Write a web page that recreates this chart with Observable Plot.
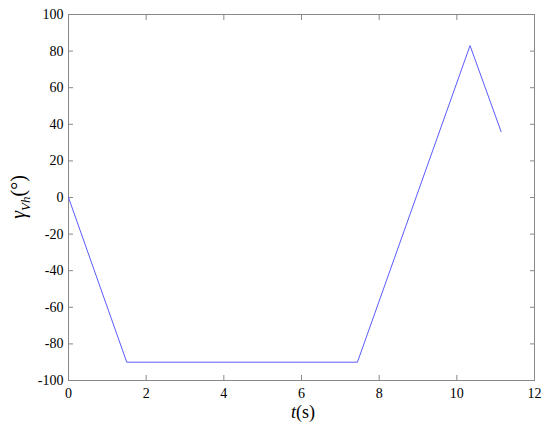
<!DOCTYPE html>
<html><head><meta charset="utf-8">
<script src="https://cdn.jsdelivr.net/npm/d3@7"></script>
<script src="https://cdn.jsdelivr.net/npm/@observablehq/plot@0.6"></script>
<style>body{margin:0;background:#fff}</style>
</head><body><div id="chart"></div>
<script>
const time = [0, 1.5, 7.44, 10.34, 11.14];
const gamma = [0, -90, -90, 83, 36];
const xTicks = [0, 2, 4, 6, 8, 10, 12];
const yTicks = [-100, -80, -60, -40, -20, 0, 20, 40, 60, 80, 100];

const data = time.map((t, i) => ({t, g: gamma[i]}));
const font = "'Liberation Serif', 'Times New Roman', 'DejaVu Serif', serif";
const fmt = d => String(d);

const plot = Plot.plot({
  width: 550, height: 430,
  marginLeft: 68, marginRight: 16, marginTop: 14, marginBottom: 50,
  style: {fontFamily: font, fontSize: "14px", color: "#000", background: "#fff"},
  x: {domain: [0, 12], label: null},
  y: {domain: [-100, 100], label: null},
  marks: [
    Plot.frame({stroke: "#888"}),
    Plot.axisX(xTicks, {anchor: "bottom", tickSize: -5, tickPadding: 13, tickFormat: fmt, stroke: "#888", fill: "#000", fontFamily: font, label: null}),
    Plot.axisX(xTicks, {anchor: "top", tickSize: -5, tickFormat: () => "", stroke: "#888", label: null}),
    Plot.axisY(yTicks, {anchor: "left", tickSize: -5, tickPadding: 10, tickFormat: fmt, stroke: "#888", fill: "#000", fontFamily: font, label: null}),
    Plot.axisY(yTicks, {anchor: "right", tickSize: -5, tickFormat: () => "", stroke: "#888", label: null}),
    Plot.line(data, {x: "t", y: "g", stroke: "#5a5aff", strokeWidth: 1})
  ]
});
document.getElementById("chart").append(plot);

const svg = d3.select(plot);
const xl = svg.append("text").attr("x", 303).attr("y", 418)
  .attr("text-anchor", "middle").style("font-family", font).attr("font-size", 18).attr("fill", "#000");
xl.append("tspan").attr("font-style", "italic").text("t");
xl.append("tspan").text("(s)");

const yl = svg.append("text").attr("transform", "translate(25,197) rotate(-90)")
  .attr("text-anchor", "middle").style("font-family", font).attr("font-size", 20).attr("fill", "#000");
yl.append("tspan").attr("font-style", "italic").text("γ");
yl.append("tspan").attr("font-style", "italic").attr("font-size", 13).attr("dy", 5).text("Vh");
yl.append("tspan").attr("dy", -5).text("(°)");
</script></body></html>
